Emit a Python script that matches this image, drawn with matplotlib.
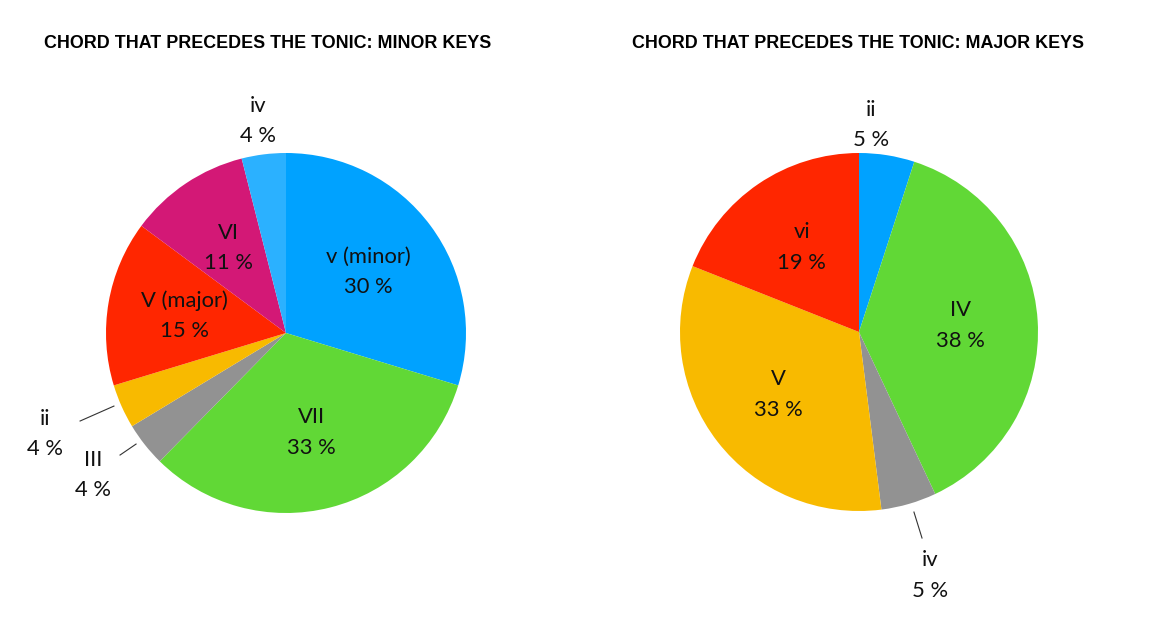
import numpy as np
import matplotlib
matplotlib.use("Agg")
import matplotlib.pyplot as plt

# ---- data ----
minor_labels = ["v (minor)", "VII", "III", "ii", "V (major)", "VI", "iv"]
minor_values = [30, 33, 4, 4, 15, 11, 4]
minor_colors = ["#00A2FF", "#61D836", "#929292", "#F8BA00", "#FF2600", "#D31876", "#2BB1FF"]

major_labels = ["ii", "IV", "iv", "V", "vi"]
major_values = [5, 38, 5, 33, 19]
major_colors = ["#00A2FF", "#61D836", "#929292", "#F8BA00", "#FF2600"]

title_minor = "CHORD THAT PRECEDES THE TONIC: MINOR KEYS"
title_major = "CHORD THAT PRECEDES THE TONIC: MAJOR KEYS"

W, H = 1170, 618
fig = plt.figure(figsize=(W / 100, H / 100), dpi=100)

LABEL_FONT = ["Lato", "DejaVu Sans"]
FS = 15.8
LS = 1.65


def add_pie(cx, cy, R, values, labels, colors, outside):
    ax = fig.add_axes([(cx - R) / W, (H - cy - R) / H, 2 * R / W, 2 * R / H])
    wedges, _ = ax.pie(values, colors=colors, startangle=90, counterclock=False,
                       radius=1.0, wedgeprops=dict(linewidth=0))
    ax.set_xlim(-1, 1)
    ax.set_ylim(-1, 1)
    ax.set_aspect("equal")
    ax.axis("off")
    for w, lab, v in zip(wedges, labels, values):
        txt = f"{lab}\n{v} %"
        if lab in outside:
            (tx, ty), line = outside[lab]
            ax.text(tx, ty, txt, ha="center", va="center", fontsize=FS,
                    family=LABEL_FONT, fontweight="normal", linespacing=LS,
                    color="#111111", clip_on=False)
            if line is not None:
                (x0, y0), (x1, y1) = line
                ax.plot([x0, x1], [y0, y1], color="#333333", lw=0.8, clip_on=False)
        else:
            ang = np.deg2rad((w.theta1 + w.theta2) / 2)
            r = 0.57
            ax.text(r * np.cos(ang), r * np.sin(ang), txt, ha="center", va="center",
                    fontsize=FS, family=LABEL_FONT, fontweight="normal",
                    color="#111111", linespacing=LS)
    return ax


minor_outside = {
    "iv": ((-0.156, 1.178), None),
    "ii": ((-1.339, -0.56), ((-1.144, -0.489), (-0.956, -0.406))),
    "III": ((-1.072, -0.79), ((-0.922, -0.678), (-0.833, -0.617))),
}
major_outside = {
    "ii": ((0.067, 1.156), None),
    "iv": ((0.397, -1.36), ((0.307, -1.006), (0.352, -1.151))),
}

add_pie(286, 333, 180, minor_values, minor_labels, minor_colors, minor_outside)
add_pie(859, 332, 179, major_values, major_labels, major_colors, major_outside)

fig.text(268 / W, 1 - 43 / H, title_minor, ha="center", va="center",
         fontsize=12.9, fontweight="bold", family=["Liberation Sans", "DejaVu Sans"])
fig.text(858 / W, 1 - 43 / H, title_major, ha="center", va="center",
         fontsize=12.9, fontweight="bold", family=["Liberation Sans", "DejaVu Sans"])

fig.savefig("out.png", dpi=100, facecolor="white")
